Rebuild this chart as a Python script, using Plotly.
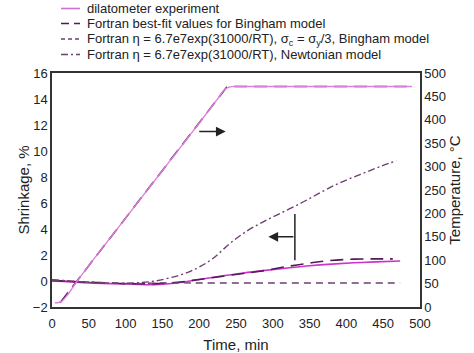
import plotly.graph_objects as go

# ---- data ----
# temperature curves (right axis, °C)
t_temp_exp = [4, 9, 13, 18, 24, 34, 100, 200, 228, 233, 238, 244, 260, 489]
temp_exp = [9, 9.5, 12, 20, 32, 55, 190, 393, 451, 462, 468, 471, 471, 471]
t_temp_fit = [11, 238, 482]
temp_fit = [9, 471, 471]

# shrinkage curves (left axis, %)
t_shr_exp = [0, 20, 50, 80, 110, 140, 170, 200, 230, 260, 290, 320, 350, 380, 410, 440, 473]
shr_exp = [0, -0.05, -0.15, -0.2, -0.25, -0.28, -0.15, 0.12, 0.38, 0.62, 0.82, 1.0, 1.17, 1.3, 1.4, 1.47, 1.54]

t_shr_fit = [0, 30, 60, 100, 140, 170, 200, 230, 260, 283, 323, 350, 378, 410, 440, 463]
shr_fit = [0.05, -0.05, -0.12, -0.2, -0.2, -0.1, 0.12, 0.35, 0.58, 0.75, 1.15, 1.38, 1.58, 1.68, 1.7, 1.7]

t_shr_bing = [0, 30, 70, 110, 150, 200, 300, 400, 473]
shr_bing = [0.05, -0.05, -0.15, -0.2, -0.15, -0.15, -0.15, -0.15, -0.15]

t_shr_newt = [0, 40, 80, 110, 140, 174, 190, 201, 219, 242, 265, 287, 310, 337, 355, 373, 391, 410, 428, 448, 468]
shr_newt = [0.1, -0.05, -0.15, -0.15, 0.0, 0.46, 0.8, 1.1, 1.75, 2.9, 3.85, 4.55, 5.2, 5.95, 6.5, 7.05, 7.55, 8.0, 8.4, 8.85, 9.25]

names = [
    "dilatometer experiment",
    "Fortran best-fit values for Bingham model",
    "Fortran η = 6.7e7exp(31000/RT), σ<sub>c</sub> = σ<sub>y</sub>/3, Bingham model",
    "Fortran η = 6.7e7exp(31000/RT), Newtonian model",
]

# arrow annotations (time, shrinkage)
arrow_right = dict(tail=(198, 11.5), head=(236, 11.5))
arrow_left = dict(tail=(330, 3.4), head=(294, 3.4))
vbar = dict(t=330, y0=1.6, y1=5.15)

FONT = "Liberation Sans, Arial, sans-serif"
C_PINK = "#cc33cc"
C_PINK_LIGHT = "#dd7fdd"
C_DARK = "#521a56"
C_GREY = "#6e3f70"

W, H = 474, 353
ML, MR, MT, MB = 52, 54, 73, 46
PW, PH = W - ML - MR, H - MT - MB


def px_x(px):
    return (px - ML) / PW


def px_y(py):
    return (H - MB - py) / PH


styles = [
    dict(color=C_PINK, width=1.6),
    dict(color=C_DARK, width=1.6, dash="13px,7px"),
    dict(color=C_GREY, width=1.4, dash="7px,5px"),
    dict(color=C_GREY, width=1.4, dash="7px,3px,2px,3px"),
]
legend_styles = [
    dict(color="#d070d0", width=1.6),
    dict(color=C_DARK, width=1.6, dash="8px,5px"),
    dict(color=C_GREY, width=1.4, dash="4px,3px"),
    dict(color=C_GREY, width=1.4, dash="7px,3px,2px,3px"),
]

fig = go.Figure()

# shrinkage traces
series = [(t_shr_exp, shr_exp), (t_shr_fit, shr_fit), (t_shr_bing, shr_bing), (t_shr_newt, shr_newt)]
for (tx, vy), nm, st in zip(series, names, styles):
    fig.add_trace(go.Scatter(x=tx, y=vy, mode="lines", name=nm, showlegend=False,
                             line=dict(shape="spline", **st), yaxis="y"))

# temperature traces
fig.add_trace(go.Scatter(x=t_temp_fit, y=temp_fit, mode="lines", showlegend=False,
                         line=dict(color=C_DARK, width=1.6, dash="13px,7px"), yaxis="y2"))
fig.add_trace(go.Scatter(x=t_temp_exp, y=temp_exp, mode="lines", showlegend=False,
                         line=dict(color=C_PINK_LIGHT, width=1.4, shape="spline"), yaxis="y2"))

# legend (drawn above the plot)
legend_rows = [8.5, 23.5, 39, 54.5]
for nm, st, ry in zip(names, legend_styles, legend_rows):
    fig.add_shape(type="line", xref="paper", yref="paper", x0=px_x(61), x1=px_x(80),
                  y0=px_y(ry), y1=px_y(ry), line=st)
    fig.add_annotation(xref="paper", yref="paper", x=px_x(85), y=px_y(ry), text=nm,
                       showarrow=False, xanchor="left", yanchor="middle",
                       font=dict(family=FONT, size=13, color="#222222"))

# arrows
for a in (arrow_right, arrow_left):
    fig.add_annotation(x=a["head"][0], y=a["head"][1], ax=a["tail"][0], ay=a["tail"][1],
                       xref="x", yref="y", axref="x", ayref="y", text="", showarrow=True,
                       arrowhead=2, arrowsize=1.3, arrowwidth=1.5, arrowcolor="#222222")
fig.add_shape(type="line", x0=vbar["t"], x1=vbar["t"], y0=vbar["y0"], y1=vbar["y1"],
              xref="x", yref="y", line=dict(color="#222222", width=1.5))

axis_common = dict(showgrid=False, zeroline=False, ticks="", linecolor="#333333", linewidth=1.5,
                   tickfont=dict(family=FONT, size=13, color="#222222"))

fig.update_layout(
    width=W, height=H,
    margin=dict(l=ML, r=MR, t=MT, b=MB, autoexpand=False),
    paper_bgcolor="white", plot_bgcolor="white",
    font=dict(family=FONT, color="#222222"),
    xaxis=dict(range=[0, 500], tickvals=list(range(0, 501, 50)), mirror=True, showline=True,
               ticklabelstandoff=4,
               title=dict(text="Time, min", font=dict(family=FONT, size=15), standoff=12),
               **axis_common),
    yaxis=dict(range=[-2, 16], tickvals=list(range(-2, 17, 2)), showline=True,
               title=dict(text="Shrinkage, %", font=dict(family=FONT, size=15), standoff=0),
               **axis_common),
    yaxis2=dict(range=[0, 500], tickvals=list(range(0, 501, 50)), overlaying="y", side="right",
                showline=True, anchor="x",
                title=dict(text="Temperature, °C", font=dict(family=FONT, size=15), standoff=4),
                **axis_common),
    showlegend=False,
)

fig.write_html("out.html")
